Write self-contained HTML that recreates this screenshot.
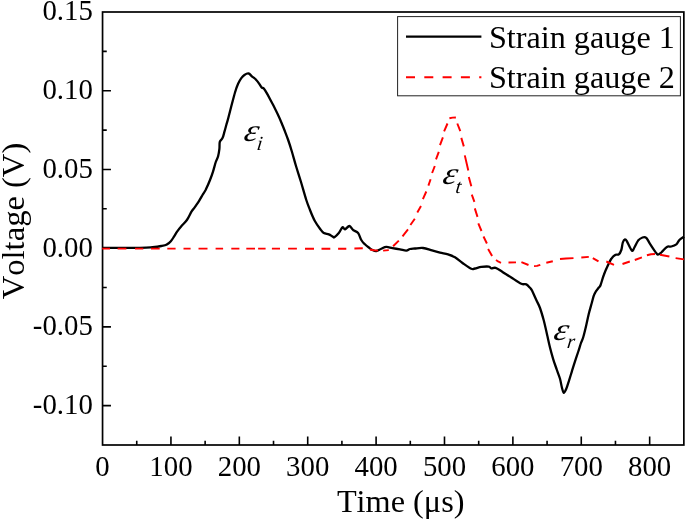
<!DOCTYPE html>
<html><head><meta charset="utf-8"><title>Voltage vs Time</title>
<style>html,body{margin:0;padding:0;background:#fff}body{width:685px;height:520px;overflow:hidden;position:relative}</style></head>
<body>
<svg width="685" height="520" viewBox="0 0 685 520" style="position:absolute;left:0;top:0;display:block;font-kerning:none">
<rect width="685" height="520" fill="#fff"/>
<rect x="102.55" y="12.0" width="581.3000000000001" height="433.0" fill="none" stroke="#000" stroke-width="1.7"/>
<path d="M136.74,445.0 v-4.2 M170.94,445.0 v-8.4 M205.13,445.0 v-4.2 M239.33,445.0 v-8.4 M273.52,445.0 v-4.2 M307.71,445.0 v-8.4 M341.91,445.0 v-4.2 M376.10,445.0 v-8.4 M410.30,445.0 v-4.2 M444.49,445.0 v-8.4 M478.69,445.0 v-4.2 M512.88,445.0 v-8.4 M547.07,445.0 v-4.2 M581.27,445.0 v-8.4 M615.46,445.0 v-4.2 M649.66,445.0 v-8.4 M102.55,51.36 h4.2 M102.55,90.73 h8.4 M102.55,130.09 h4.2 M102.55,169.45 h8.4 M102.55,208.82 h4.2 M102.55,248.18 h8.4 M102.55,287.55 h4.2 M102.55,326.91 h8.4 M102.55,366.27 h4.2 M102.55,405.64 h8.4" fill="none" stroke="#000" stroke-width="1.6"/>
<path d="M102.0,247.8C108.3,247.8 131.6,247.9 140.0,247.8C148.4,247.7 148.9,247.5 152.5,247.2C156.1,246.9 158.9,246.5 161.3,246.0C163.7,245.5 165.4,245.2 166.9,244.4C168.4,243.7 169.4,242.8 170.6,241.5C171.8,240.2 172.8,238.5 173.8,236.9C174.9,235.3 175.7,233.7 176.9,231.9C178.2,230.1 179.6,228.3 181.3,226.3C183.0,224.3 185.2,222.4 186.9,220.0C188.6,217.6 190.0,214.1 191.3,211.9C192.7,209.7 193.8,208.7 195.0,206.9C196.2,205.1 197.6,203.3 198.8,201.3C200.1,199.3 201.4,196.9 202.5,195.0C203.6,193.1 204.3,192.5 205.6,190.0C206.8,187.5 208.8,183.1 210.0,180.0C211.2,176.9 212.2,174.2 213.1,171.3C214.0,168.4 214.8,165.0 215.6,162.5C216.4,160.0 217.5,158.6 218.1,156.3C218.7,154.0 219.1,151.2 219.4,148.8C219.7,146.4 219.3,143.7 219.8,141.9C220.3,140.1 221.7,139.8 222.5,138.1C223.3,136.4 223.8,134.1 224.4,131.9C225.0,129.7 225.7,127.2 226.3,125.0C226.9,122.8 227.3,121.9 228.1,118.8C228.9,115.7 230.2,110.7 231.3,106.3C232.5,101.9 233.9,96.2 235.0,92.5C236.1,88.8 237.0,86.2 238.1,83.8C239.2,81.4 240.2,79.6 241.3,78.1C242.4,76.6 243.2,75.8 244.4,75.0C245.6,74.2 247.2,73.3 248.5,73.5C249.8,73.7 250.6,75.2 251.9,76.3C253.2,77.4 255.0,78.5 256.3,80.0C257.7,81.5 259.1,83.7 260.0,85.0C260.9,86.3 261.3,87.2 261.9,87.8C262.5,88.4 262.9,87.4 263.8,88.5C264.7,89.6 266.1,91.9 267.5,94.4C268.9,97.0 270.8,100.6 272.5,103.8C274.2,107.0 275.9,110.5 277.5,113.8C279.1,117.1 280.8,121.1 281.9,123.8C283.0,126.5 283.4,127.4 284.4,130.0C285.4,132.6 286.7,135.8 288.0,139.5C289.3,143.2 290.7,147.6 292.0,152.0C293.3,156.4 294.5,161.0 296.0,166.0C297.5,171.0 299.3,176.3 301.0,182.0C302.7,187.7 304.8,195.3 306.3,200.0C307.8,204.7 308.6,206.4 310.0,210.0C311.4,213.6 313.3,218.2 315.0,221.3C316.7,224.4 318.5,226.8 320.0,228.8C321.5,230.8 322.3,232.2 323.8,233.1C325.3,234.0 327.4,233.8 328.8,234.4C330.2,235.0 331.6,236.0 332.5,236.5C333.4,237.0 333.3,237.9 334.4,237.3C335.4,236.7 337.4,234.8 338.8,233.1C340.2,231.4 341.5,227.9 342.5,227.3C343.5,226.7 343.9,229.6 345.0,229.4C346.1,229.2 348.0,225.9 349.4,226.0C350.8,226.1 351.7,228.8 353.1,230.0C354.6,231.2 356.7,231.4 358.1,233.1C359.5,234.8 360.2,238.2 361.3,240.0C362.4,241.8 363.1,242.6 364.4,243.8C365.6,245.1 367.4,246.5 368.8,247.5C370.2,248.5 371.2,249.4 372.5,250.0C373.8,250.6 374.8,251.2 376.3,251.0C377.8,250.8 379.6,249.5 381.3,248.8C383.0,248.1 384.4,247.0 386.3,246.9C388.2,246.8 390.2,247.7 392.5,248.1C394.8,248.5 397.7,249.0 400.0,249.4C402.3,249.8 404.6,250.7 406.3,250.6C408.0,250.5 408.6,249.3 410.0,249.0C411.4,248.7 412.8,248.7 415.0,248.5C417.2,248.3 420.2,247.7 423.0,248.0C425.8,248.3 429.2,249.6 432.0,250.4C434.8,251.2 437.3,251.9 440.0,252.6C442.7,253.3 445.5,253.6 448.0,254.4C450.5,255.2 452.6,255.9 455.0,257.3C457.4,258.7 459.8,261.1 462.5,263.0C465.2,264.9 469.2,267.9 471.3,268.8C473.4,269.7 473.3,268.8 475.0,268.5C476.7,268.2 479.0,267.2 481.3,266.9C483.6,266.6 487.1,266.4 488.8,266.6C490.5,266.9 490.2,268.2 491.3,268.4C492.4,268.6 493.7,267.3 495.6,267.9C497.5,268.5 499.9,270.3 502.5,271.9C505.1,273.5 508.2,275.5 511.3,277.5C514.4,279.5 518.8,282.7 521.3,283.8C523.8,284.9 524.8,283.7 526.3,284.4C527.8,285.1 529.0,286.8 530.0,287.8C531.0,288.8 531.0,288.5 532.0,290.5C533.0,292.5 535.0,297.1 536.3,300.0C537.6,302.9 538.8,304.6 540.0,308.0C541.2,311.4 542.5,315.8 543.8,320.5C545.0,325.2 546.5,332.0 547.5,336.5C548.5,341.0 549.1,343.8 550.0,347.5C550.9,351.2 552.0,355.1 553.1,358.8C554.2,362.6 555.8,366.7 556.9,370.0C558.0,373.3 559.2,375.9 560.0,378.8C560.8,381.7 561.3,385.2 561.9,387.5C562.5,389.8 563.1,392.6 563.8,392.8C564.5,393.0 565.5,390.7 566.3,388.8C567.1,386.9 567.9,384.2 568.8,381.3C569.7,378.4 570.9,374.6 571.9,371.3C572.9,368.0 573.9,364.6 575.0,361.3C576.1,358.0 577.3,354.5 578.3,351.5C579.3,348.5 580.0,345.9 580.8,343.5C581.6,341.1 582.4,340.1 583.3,337.0C584.2,333.9 585.4,328.9 586.3,325.0C587.2,321.1 587.9,317.6 588.8,313.8C589.7,310.1 591.1,305.5 591.9,302.5C592.7,299.5 593.2,297.4 593.8,295.6C594.4,293.8 594.8,293.2 595.6,291.9C596.4,290.5 598.0,288.6 598.8,287.5C599.6,286.4 599.8,287.1 600.6,285.0C601.4,282.9 602.6,278.1 603.8,275.0C604.9,271.9 606.2,269.0 607.5,266.3C608.8,263.6 609.9,260.7 611.3,258.8C612.6,256.9 614.4,255.5 615.6,254.8C616.9,254.1 617.8,255.2 618.8,254.4C619.8,253.6 620.6,252.0 621.3,250.0C622.0,248.0 622.2,244.3 622.8,242.5C623.4,240.7 624.3,239.6 625.0,239.4C625.7,239.2 625.8,239.4 626.9,241.3C628.0,243.2 630.6,249.6 631.9,250.6C633.1,251.6 633.4,249.2 634.4,247.5C635.4,245.8 636.8,242.3 638.1,240.6C639.5,238.9 641.1,238.0 642.5,237.5C643.9,237.0 645.0,236.8 646.3,237.8C647.5,238.9 648.5,241.6 650.0,243.8C651.5,246.1 653.7,249.5 655.0,251.3C656.3,253.1 656.8,254.4 657.8,254.6C658.8,254.8 659.8,253.8 661.3,252.5C662.8,251.2 665.2,247.9 666.9,246.9C668.6,245.9 669.7,246.9 671.3,246.5C672.9,246.1 674.9,245.5 676.3,244.4C677.6,243.3 678.3,241.2 679.4,240.0C680.5,238.8 682.3,237.8 683.1,237.3C683.9,236.8 683.9,236.9 684.0,236.8" fill="none" stroke="#000" stroke-width="2.3" stroke-linejoin="round" stroke-linecap="butt"/>
<path d="M102.2,248.6 L110,248.6 M117.6,248.6 L126.4,248.6 M135,248.6 L143.3,248.6 M151,248.6 L159.7,248.6 M167.3,248.6 L175.6,248.6 M183.5,248.6 L190.6,248.6 M198.5,248.6 L207.5,248.6 M215.6,248.6 L223.1,248.6 M231.3,248.6 L239.4,248.6 M246.3,248.6 L255,248.6 M258.1,248.6 L265.6,248.6 M271.9,248.6 L280,248.6 M288.1,248.6 L296.9,248.65 M305,248.7 L314,248.75 M321.5,248.75 L330.3,248.75 M338.1,248.75 L346.3,248.7 M354.4,248.45 L362.8,248.2 M370,249.5 L374,250.2 L378.1,250.6 M383.1,250.6 L388.8,250.1 M393.1,246.3 L398.8,240.6 M402.5,236.3 L408,229.4 M410.4,225 L414.8,218.8 M417.3,212.5 L421,205.9 M422.9,199.1 L426.3,191.5 M428.4,185.6 L430.6,179.3 M432.1,173 L434.8,166 M436,159.3 L438.8,151.8 M440,145.1 L442.9,137.4 M444.1,131.4 L447.5,123.5 M449.4,118.3 L452.6,117.6 L455.9,117.5 M457.3,123.5 L460.3,131.1 M461.3,137.9 L463.8,146.4 M464.8,155.4 L468.3,170.5 M468.8,177.1 L471.3,186.3 M471.8,194.6 L474.4,201.9 M474.8,208.4 L477.5,216.9 M478.3,223.4 L481.5,231 M483.5,236.5 L486.9,243.5 M488.1,249 L492.1,256 M496,260 L498.5,261.7 L501,262.8 M508.5,262.5 L516,262.4 M521.4,262.2 L528.5,265 M534,266.1 L537,265.9 L540.3,264.8 M546.3,262.8 L552.8,261.3 M560,259 L566,258.5 L573.5,258.1 M581.3,257.5 L588.8,256.9 M592.8,258.1 L598.5,261.3 M606.3,261.5 L614,264.8 M622.5,264 L629.8,261.5 M634.8,260 L641.9,257.3 M646.9,255.3 L651,254.3 L655,254 M660,254.8 L669.4,256.5 M675.6,258.1 L684,259.4" fill="none" stroke="#f00" stroke-width="1.95" stroke-linejoin="round" stroke-linecap="butt"/>
<g font-family="'Liberation Serif', 'Times New Roman', serif" font-size="28.8" fill="#000">
<text transform="translate(102.55,476.2) scale(1,1.05)" text-anchor="middle">0</text>
<text transform="translate(170.94,476.2) scale(1,1.05)" text-anchor="middle">100</text>
<text transform="translate(239.33,476.2) scale(1,1.05)" text-anchor="middle">200</text>
<text transform="translate(307.71,476.2) scale(1,1.05)" text-anchor="middle">300</text>
<text transform="translate(376.10,476.2) scale(1,1.05)" text-anchor="middle">400</text>
<text transform="translate(444.49,476.2) scale(1,1.05)" text-anchor="middle">500</text>
<text transform="translate(512.88,476.2) scale(1,1.05)" text-anchor="middle">600</text>
<text transform="translate(581.27,476.2) scale(1,1.05)" text-anchor="middle">700</text>
<text transform="translate(649.66,476.2) scale(1,1.05)" text-anchor="middle">800</text>
<text transform="translate(92.8,20.40) scale(1,1.05)" text-anchor="end">0.15</text>
<text transform="translate(92.8,99.13) scale(1,1.05)" text-anchor="end">0.10</text>
<text transform="translate(92.8,177.85) scale(1,1.05)" text-anchor="end">0.05</text>
<text transform="translate(92.8,256.58) scale(1,1.05)" text-anchor="end">0.00</text>
<text transform="translate(92.8,335.31) scale(1,1.05)" text-anchor="end">-0.05</text>
<text transform="translate(92.8,414.04) scale(1,1.05)" text-anchor="end">-0.10</text>
</g>
<g font-family="'Liberation Serif', 'Times New Roman', serif" fill="#000">
<text x="400.7" y="511.8" text-anchor="middle" font-size="32.3">Time (μs)</text>
<text transform="translate(24,221) rotate(-90)" text-anchor="middle" font-size="32.6">Voltage (V)</text>
</g>
<rect x="397.6" y="16.6" width="282.8" height="79.2" fill="#fff" stroke="#222" stroke-width="1"/>
<path d="M406,36.7 H481.4" stroke="#000" stroke-width="2.2"/>
<path d="M406,77.2 H481.4" stroke="#f00" stroke-width="2.05" stroke-dasharray="9 9.3"/>
<g font-family="'Liberation Serif', 'Times New Roman', serif" font-size="32.2" fill="#000">
<text x="488.9" y="47.5">Strain gauge 1</text>
<text x="488.9" y="88">Strain gauge 2</text>
</g>
<g font-family="'Liberation Serif', 'Times New Roman', serif" font-style="italic" fill="#000"><text transform="translate(242.8,141.1) scale(1.12,1) skewX(-12)" font-size="31.5">ε</text><text transform="translate(256.2,150) skewX(-7)" font-size="20">i</text></g>
<g font-family="'Liberation Serif', 'Times New Roman', serif" font-style="italic" fill="#000"><text transform="translate(441.6,183.8) scale(1.12,1) skewX(-12)" font-size="31.5">ε</text><text transform="translate(455,192.6) skewX(-7)" font-size="20">t</text></g>
<g font-family="'Liberation Serif', 'Times New Roman', serif" font-style="italic" fill="#000"><text transform="translate(552.6,339.6) scale(1.12,1) skewX(-12)" font-size="31.5">ε</text><text transform="translate(566.4,347.7) skewX(-7)" font-size="20">r</text></g>
</svg>
</body></html>
